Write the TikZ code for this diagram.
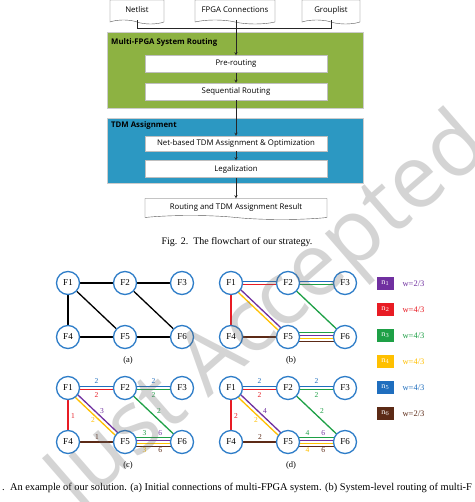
\documentclass[tikz,border=0pt]{standalone}
\usepackage{fontspec}
\setmainfont{Liberation Serif}
\newfontfamily\flowfont{Open Sans}
\usetikzlibrary{positioning,calc,shapes.symbols,backgrounds}

\definecolor{routegreen}{RGB}{141,178,66}
\definecolor{tdmblue}{RGB}{44,152,194}
\definecolor{fpgablue}{RGB}{46,125,200}
\definecolor{npurple}{RGB}{112,48,160}
\definecolor{nred}{RGB}{232,28,36}
\definecolor{ngreen}{RGB}{30,160,70}
\definecolor{nyellow}{RGB}{255,192,0}
\definecolor{nblue}{RGB}{31,110,190}
\definecolor{nbrown}{RGB}{92,42,22}

% one net between two FPGAs, shifted sideways by #1
\newcommand\netline[4][0pt]{%
  \draw[net, #2] ($(#3)!#1!90:(#4)$) -- ($(#4)!#1!-90:(#3)$);}

\begin{document}
\begin{tikzpicture}
  [
    x = 1pt, y = 1pt,
    >=stealth,
    doc/.style     = {tape, tape bend top=none, tape bend bottom=out and in,
                      tape bend height=4pt, draw=gray!70!black, fill=white,
                      inner sep=0pt, font=\flowfont\fontsize{7.8}{9}\selectfont},
    stepbox/.style = {draw=gray!50, fill=white, minimum width=182, minimum height=17,
                      inner sep=0pt, font=\flowfont\fontsize{7.8}{9}\selectfont},
    stage/.style   = {draw=gray!40, minimum width=256, anchor=north west, inner sep=0pt},
    title/.style   = {anchor=north west, inner sep=0pt,
                      font=\flowfont\bfseries\fontsize{7.8}{9}\selectfont},
    flow/.style    = {draw=gray!30!black, ->},
    link/.style    = {draw=gray!30!black},
    fpga/.style    = {draw=fpgablue, fill=white, circle, line width=1.3pt,
                      minimum size=23, inner sep=0pt, font=\fontsize{9}{9}\selectfont},
    net/.style     = {line width=1.3pt},
    num/.style     = {inner sep=0pt, font=\fontsize{7.5}{8}\selectfont},
    key/.style     = {minimum width=17.6, minimum height=13.5, inner sep=0pt,
                      text=white, font=\fontsize{8}{8}\selectfont},
    keytext/.style = {inner sep=0pt, font=\fontsize{8.5}{9}\selectfont},
  ]

  % page frame
  \useasboundingbox (0,0) rectangle (474,-502);
  \clip (0,0) rectangle (474,-502);
  \begin{scope}[on background layer]
    \fill[white] (0,0) rectangle (474,-502);
  \end{scope}

  % input files
  \node (netlist) at (137,-10) [doc, minimum width=54, minimum height=24] {Netlist};
  \node (fpgaconn) at (235,-10) [doc, minimum width=80, minimum height=24] {FPGA Connections};
  \node (grouplist) at (331,-10) [doc, minimum width=58, minimum height=24] {Grouplist};
  \coordinate (join) at (236,-28);

  % the two stages
  \node (routing) at (107,-32) [stage, fill=routegreen, minimum height=76] {};
  \node (routingtitle) at ($(routing.north west)+(4,-6)$) [title] {Multi-FPGA System Routing};
  \node (tdm) at (107,-118) [stage, fill=tdmblue, minimum height=65] {};
  \node (tdmtitle) at ($(tdm.north west)+(4,-3)$) [title] {TDM Assignment};

  % steps
  \node (pre) at (236,-64) [stepbox] {Pre-routing};
  \node (seq) at (236,-91.5) [stepbox] {Sequential Routing};
  \node (opt) at (236,-143.5) [stepbox, minimum height=15] {Net-based TDM Assignment \& Optimization};
  \node (legal) at (236,-169) [stepbox] {Legalization};
  \node (result) at (236,-207) [doc, minimum width=182, minimum height=21] {Routing and TDM Assignment Result};

  % flow of the steps
  \draw[link] (netlist.south) |- (join);
  \draw[link] (grouplist.south) |- (join);
  \draw[flow] (fpgaconn.south -| pre.north) -- (pre.north);
  \draw[flow] (pre) -- (seq);
  \draw[flow] (seq) -- (opt);
  \draw[flow] (opt) -- (legal);
  \draw[flow] (legal) -- (result);

  \node (figtwo) at (237,-242) [font=\fontsize{10}{11}\selectfont] {Fig. 2.\ \ The flowchart of our strategy.};

  % the four FPGA graphs
  \foreach \p/\px/\py in {a/68/-283, b/231/-283, c/68/-388, d/231/-388}
    {
      \foreach \i/\dx/\dy in {1/0/0, 2/57/0, 3/114/0, 4/0/-54, 5/57/-54, 6/114/-54}
        \node (\p\i) at (\px+\dx,\py+\dy) [fpga] {F\i};
      \node (\p cap) at (\px+60,\py-77) [font=\fontsize{8.5}{9}\selectfont] {(\p)};
    }

  \begin{scope}[on background layer]
    % (a) the initial connections
    \foreach \u/\v in {1/2, 2/3, 1/4, 1/5, 2/6, 4/5, 5/6}
      \draw[net, black] (a\u) -- (a\v);

    % (b)-(d) the routed nets
    \foreach \p in {b,c,d}
      {
        \netline[1.8pt]{nblue}{\p1}{\p2}
        \netline[-1.8pt]{nred}{\p1}{\p2}
        \netline[1.8pt]{nblue}{\p2}{\p3}
        \netline[-1.8pt]{ngreen}{\p2}{\p3}
        \netline{nred}{\p1}{\p4}
        \netline[1.8pt]{npurple}{\p1}{\p5}
        \netline[-1.8pt]{nyellow}{\p1}{\p5}
        \netline{ngreen}{\p2}{\p6}
        \netline{nbrown}{\p4}{\p5}
        \netline[4.6pt]{ngreen}{\p5}{\p6}
        \netline[1.6pt]{npurple}{\p5}{\p6}
        \netline[-1.6pt]{nyellow}{\p5}{\p6}
        \netline[-4.6pt]{nbrown}{\p5}{\p6}
      }
  \end{scope}

  % TDM ratios on the edges of (c) and (d)
  \foreach \p/\ffour/\fpur/\ffive/\fsix in {c/1/3/1/3, d/2/4/2/4}
    {
      \node (\p12up) at ($(\p1)!.5!(\p2)+(0,6.5)$) [num, text=nblue] {2};
      \node (\p12dn) at ($(\p1)!.5!(\p2)+(0,-7.5)$) [num, text=nred] {2};
      \node (\p23up) at ($(\p2)!.5!(\p3)+(0,6.5)$) [num, text=nblue] {2};
      \node (\p23dn) at ($(\p2)!.5!(\p3)+(0,-7.5)$) [num, text=ngreen] {2};
      \node (\p14) at ($(\p1)!.5!(\p4)+(5,-1.5)$) [num, text=nred] {\ffour};
      \node (\p15up) at ($(\p1)!.5!(\p5)+(5.5,4)$) [num, text=npurple] {\fpur};
      \node (\p15dn) at ($(\p1)!.5!(\p5)+(-3.5,-5)$) [num, text=nyellow] {2};
      \node (\p26) at ($(\p2)!.5!(\p6)+(5.5,4)$) [num, text=ngreen] {2};
      \node (\p45) at ($(\p4)!.5!(\p5)+(0.5,4.5)$) [num, text=nbrown] {\ffive};
      \node (\p56a) at ($(\p5)!.34!(\p6)+(0,9)$) [num, text=ngreen] {\fsix};
      \node (\p56b) at ($(\p5)!.62!(\p6)+(0,9)$) [num, text=npurple] {6};
      \node (\p56c) at ($(\p5)!.34!(\p6)+(0,-8.5)$) [num, text=nyellow] {\fsix};
      \node (\p56d) at ($(\p5)!.62!(\p6)+(0,-8.5)$) [num, text=nbrown] {6};
    }

  % legend of the nets
  \foreach \k/\col/\w [count=\r from 0] in
      {1/npurple/2, 2/nred/4, 3/ngreen/4, 4/nyellow/4, 5/nblue/4, 6/nbrown/2}
    {
      \node (key\k) at (385.5,-283.5-26*\r) [key, fill=\col] {n$_{\k}$};
      \node (wt\k) at (413.5,-283.5-26*\r) [keytext, text=\col] {w=\w/3};
    }

  \node (figfour) at (2,-488) [anchor=west, inner sep=0pt, font=\fontsize{10.4}{12}\selectfont]
    {.\ \ An example of our solution. (a) Initial connections of multi-FPGA system. (b) System-level routing of multi-F};

  % watermark
  \node (mark) at (270,-314) [rotate=41, text=black!60, opacity=.28,
    font=\flowfont\fontsize{88}{88}\selectfont] {Just Accepted};
\end{tikzpicture}
\end{document}
